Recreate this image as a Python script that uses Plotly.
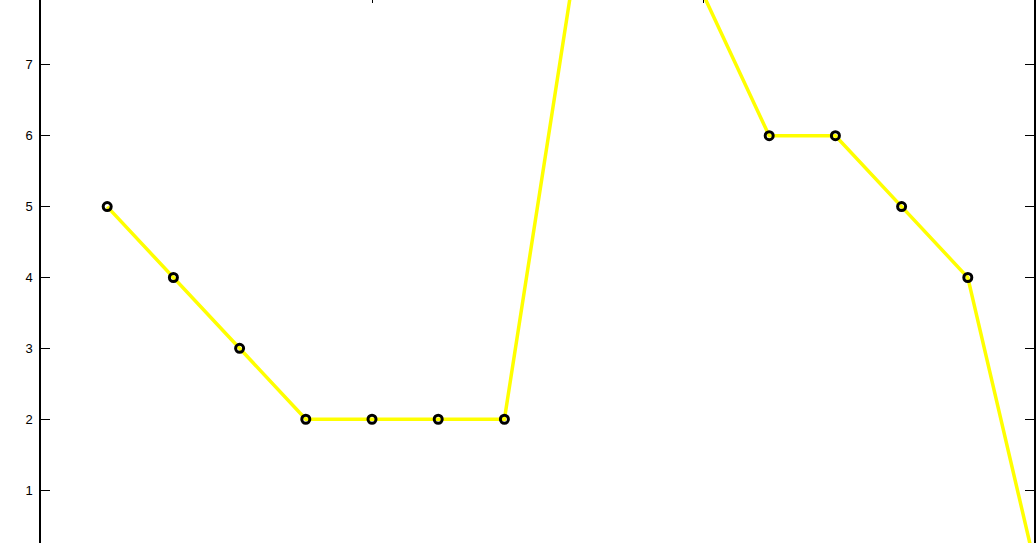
import plotly.graph_objs as go

# sample index and measured values (points 8-10 sit on the clipped top edge)
x = list(range(1, 16))
y = [5, 4, 3, 2, 2, 2, 2, 8, 8, 8, 6, 6, 5, 4, 0]

y_ticks = [1, 2, 3, 4, 5, 6, 7]
x_ticks = [5, 10, 15]

fig = go.Figure()
fig.add_trace(go.Scatter(
    x=x, y=y, mode='lines+markers',
    line=dict(color='#ffff00', width=3.5),
    marker=dict(symbol='circle-open', color='black', size=8,
                line=dict(color='black', width=3)),
    showlegend=False))

fig.update_layout(
    width=1036, height=543,
    margin=dict(l=41, r=2, t=0, b=0),
    plot_bgcolor='white', paper_bgcolor='white',
    font=dict(family='Liberation Sans, Arial', size=13, color='black'),
    xaxis=dict(range=[0, 15], side='top', tickvals=x_ticks, showticklabels=False,
               ticks='inside', ticklen=3, tickcolor='black', tickwidth=1,
               showgrid=False, zeroline=False, showline=False),
    yaxis=dict(range=[0.254, 7.915], tickvals=y_ticks, ticks='inside', ticklen=9,
               tickcolor='black', tickwidth=1, showline=True, linecolor='black',
               linewidth=1.5, mirror='ticks', showgrid=False, zeroline=False,
               ticklabelstandoff=4),
)

# drop the browser's default page margin so the figure sits at the window corner
fig.write_html("out.html", config={'displayModeBar': False},
               post_script="document.body.style.margin='0';document.body.style.overflow='hidden';")
